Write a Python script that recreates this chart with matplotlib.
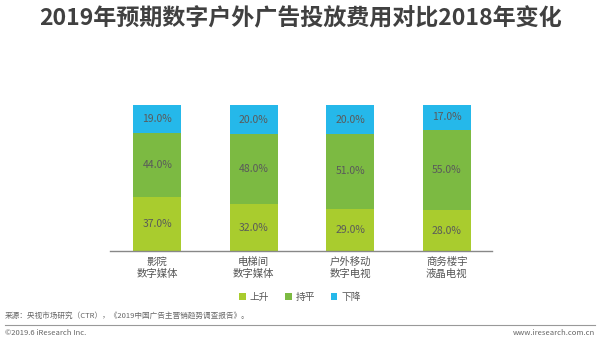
import matplotlib
matplotlib.use("Agg")
import matplotlib.pyplot as plt
import numpy as np

plt.rcParams['font.family'] = ['Noto Sans CJK SC', 'DejaVu Sans']

categories = ['影院\n数字媒体', '电梯间\n数字媒体', '户外移动\n数字电视', '商务楼宇\n液晶电视']
up = [37.0, 32.0, 29.0, 28.0]
flat = [44.0, 48.0, 51.0, 55.0]
down = [19.0, 20.0, 20.0, 17.0]
series_names = ['上升', '持平', '下降']
colors = ['#a9cc2e', '#7cba42', '#25b8ea']

W, H = 600, 341
fig = plt.figure(figsize=(6, 3.41), dpi=100)
ax = fig.add_axes([110 / W, (H - 251) / H, (492 - 110) / W, (251 - 105) / H])

x = np.arange(len(categories))
bottom = np.zeros(len(categories))
for vals, name, c in zip([up, flat, down], series_names, colors):
    ax.bar(x, vals, width=0.5, bottom=bottom, color=c, label=name)
    for xi, b, v in zip(x, bottom, vals):
        ax.text(xi, b + v / 2, f'{v:.1f}%', ha='center', va='center',
                fontsize=7.5, color='#5a5a5a')
    bottom += np.array(vals)

ax.set_xlim(-0.49, 3.47)
ax.set_ylim(0, 100)
ax.set_xticks(x)
ax.set_xticklabels(categories, fontsize=7.5, color='#555555', linespacing=1.3)
ax.tick_params(axis='x', length=0, pad=4)
ax.set_yticks([])
for s in ['top', 'right', 'left']:
    ax.spines[s].set_visible(False)
ax.spines['bottom'].set_color('#888888')
ax.spines['bottom'].set_linewidth(1)

fig.text(0.5, 1 - 19 / H, '2019年预期数字户外广告投放费用对比2018年变化',
         ha='center', va='center', fontsize=16.6, fontweight='bold', color='#404040')

leg = fig.legend(loc='center', bbox_to_anchor=(0.5, 1 - 297 / H), ncol=3,
                 frameon=False, fontsize=7, handlelength=0.7, handleheight=0.7,
                 handletextpad=0.4, columnspacing=1.6)
for t in leg.get_texts():
    t.set_color('#555555')

fig.text(5 / W, 1 - 316 / H, '来源：央视市场研究（CTR），《2019中国广告主营销趋势调查报告》。',
         ha='left', va='center', fontsize=5.5, color='#666666')
fig.add_artist(plt.Line2D([5 / W, 595 / W], [1 - 325 / H, 1 - 325 / H],
                          color='#999999', linewidth=0.8))
fig.text(5 / W, 1 - 333 / H, '©2019.6 iResearch Inc.', ha='left', va='center',
         fontsize=5.5, color='#666666')
fig.text(595 / W, 1 - 333 / H, 'www.iresearch.com.cn', ha='right', va='center',
         fontsize=5.5, color='#666666')

fig.savefig('out.png', dpi=100)
